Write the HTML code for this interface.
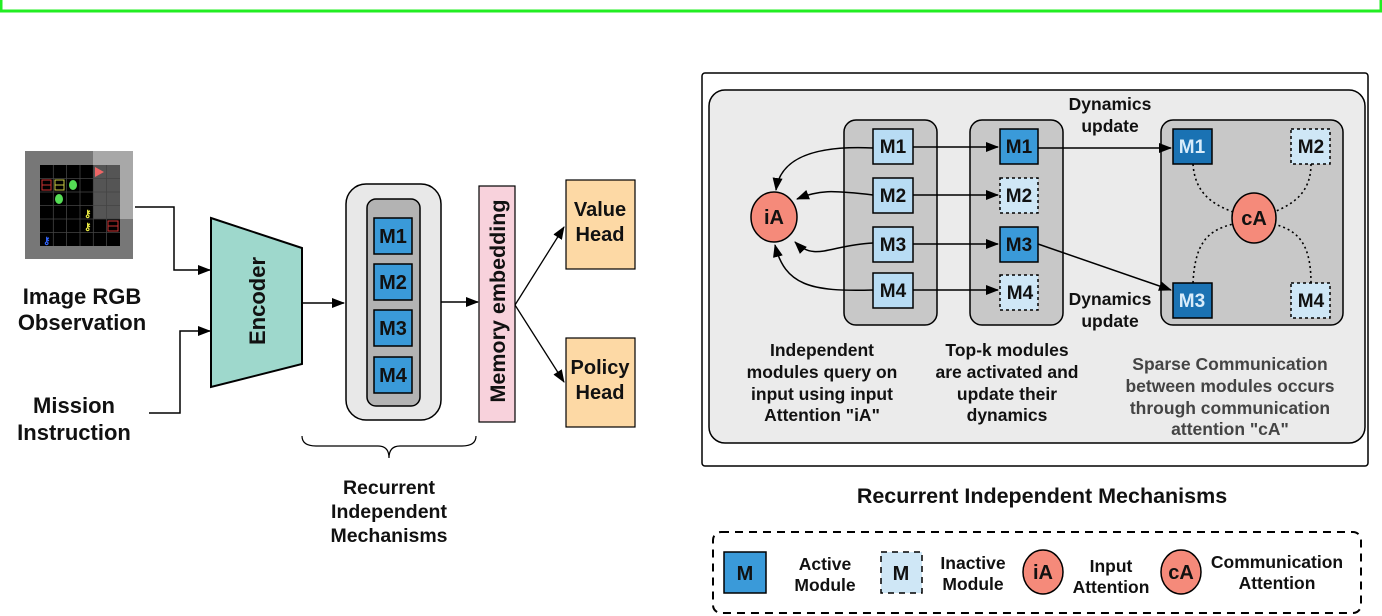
<!DOCTYPE html>
<html><head><meta charset="utf-8"><style>
body{margin:0;background:#fff}
svg{display:block}
text{font-family:"Liberation Sans",Arial,sans-serif;font-weight:bold;fill:#111}
</style></head><body>
<svg width="1382" height="616" viewBox="0 0 1382 616" xmlns="http://www.w3.org/2000/svg">
<defs>
<marker id="ar" markerWidth="13" markerHeight="10" refX="12" refY="5" orient="auto" markerUnits="userSpaceOnUse"><path d="M0,0 L13,5 L0,10 z" fill="#000"/></marker>
</defs>
<rect x="1" y="-20" width="1380" height="31" fill="none" stroke="#22ee22" stroke-width="3"/>
<!-- image observation -->
<rect x="25" y="151" width="108" height="108" fill="#777"/>
<rect x="93" y="151" width="40" height="68" fill="#a8a8a8"/>
<rect x="40" y="165" width="80" height="81" fill="#000"/>
<rect x="93" y="165" width="27" height="54" fill="#555"/>
<g stroke="#444" stroke-width="0.8">
<line x1="53.3" y1="165" x2="53.3" y2="246"/><line x1="66.6" y1="165" x2="66.6" y2="246"/><line x1="80" y1="165" x2="80" y2="246"/><line x1="93.3" y1="165" x2="93.3" y2="246"/><line x1="106.6" y1="165" x2="106.6" y2="246"/>
<line x1="40" y1="178.5" x2="120" y2="178.5"/><line x1="40" y1="192" x2="120" y2="192"/><line x1="40" y1="205.5" x2="120" y2="205.5"/><line x1="40" y1="219" x2="120" y2="219"/><line x1="40" y1="232.5" x2="120" y2="232.5"/>
</g>
<path d="M95,167 L104,172 L95,177z" fill="#e66"/>
<rect x="42" y="180" width="9" height="10" fill="none" stroke="#c33" stroke-width="1"/><line x1="42" y1="185" x2="51" y2="185" stroke="#c33"/>
<rect x="55" y="180" width="9" height="10" fill="none" stroke="#cc4" stroke-width="1"/><line x1="55" y1="185" x2="64" y2="185" stroke="#cc4"/>
<ellipse cx="73" cy="185" rx="4" ry="5" fill="#5d5"/>
<ellipse cx="59" cy="199" rx="4" ry="5" fill="#5d5"/>
<rect x="108" y="221" width="10" height="10" fill="none" stroke="#c33"/><line x1="108" y1="226" x2="118" y2="226" stroke="#c33"/>
<text x="84" y="217" font-size="10" style="fill:#ee4">⚷</text>
<text x="84" y="230" font-size="10" style="fill:#ee4">⚷</text>
<text x="43" y="244" font-size="10" style="fill:#36f">⚷</text>
<!-- left labels -->
<g font-size="22" text-anchor="middle">
<text x="82" y="304">Image RGB</text>
<text x="82" y="330">Observation</text>
<text x="74" y="413">Mission</text>
<text x="74" y="440">Instruction</text>
</g>
<polyline points="135,207 174,207 174,270 210,270" fill="none" stroke="#000" stroke-width="1.5" marker-end="url(#ar)"/>
<polyline points="149,413 180,413 180,331 210,331" fill="none" stroke="#000" stroke-width="1.5" marker-end="url(#ar)"/>
<polygon points="211,218 302,248 302,364 211,387" fill="#9ed8cc" stroke="#000" stroke-width="2"/>
<text transform="translate(265,301) rotate(-90)" font-size="22" text-anchor="middle">Encoder</text>
<line x1="302" y1="303" x2="344" y2="303" stroke="#000" stroke-width="1.5" marker-end="url(#ar)"/>
<rect x="346" y="184" width="95" height="236" rx="20" fill="#e8e8e8" stroke="#000" stroke-width="1.5"/>
<rect x="367" y="199" width="53" height="207" rx="9" fill="#b3b3b3" stroke="#000" stroke-width="1.5"/>
<g stroke="#000" stroke-width="1.5" fill="#3a9ad9">
<rect x="374" y="218" width="38" height="36"/><rect x="374" y="264" width="38" height="36"/><rect x="374" y="310" width="38" height="36"/><rect x="374" y="357" width="38" height="36"/>
</g>
<g font-size="20" text-anchor="middle"><text x="393" y="243">M1</text><text x="393" y="289">M2</text><text x="393" y="335">M3</text><text x="393" y="382">M4</text></g>
<line x1="441" y1="302" x2="478" y2="302" stroke="#000" stroke-width="1.5" marker-end="url(#ar)"/>
<rect x="479" y="186" width="36" height="236" fill="#f8d2dc" stroke="#000" stroke-width="1.2"/>
<text transform="translate(505,301) rotate(-90)" font-size="21.5" text-anchor="middle">Memory embedding</text>
<line x1="515" y1="305" x2="564" y2="227" stroke="#000" stroke-width="1.3" marker-end="url(#ar)"/>
<line x1="515" y1="305" x2="564" y2="382" stroke="#000" stroke-width="1.3" marker-end="url(#ar)"/>
<rect x="566" y="180" width="69" height="89" fill="#fdd9a5" stroke="#000" stroke-width="1.2"/>
<rect x="566" y="338" width="69" height="89" fill="#fdd9a5" stroke="#000" stroke-width="1.2"/>
<g font-size="20" text-anchor="middle"><text x="600" y="216">Value</text><text x="600" y="241">Head</text><text x="600" y="374">Policy</text><text x="600" y="399">Head</text></g>
<path d="M302,436 Q302,446 316,446 L378,446 Q389,446 389,458 Q389,446 400,446 L462,446 Q476,446 476,436" fill="none" stroke="#000" stroke-width="1.2"/>
<g font-size="19.5" text-anchor="middle"><text x="389" y="494">Recurrent</text><text x="389" y="518">Independent</text><text x="389" y="542">Mechanisms</text></g>

<!-- right panel -->
<rect x="702" y="73" width="666" height="393" rx="3" fill="#fff" stroke="#000" stroke-width="1.5"/>
<rect x="709" y="90" width="656" height="353" rx="16" fill="#ebebeb" stroke="#000" stroke-width="1.5"/>
<rect x="844" y="120" width="93" height="205" rx="12" fill="#c8c8c8" stroke="#000" stroke-width="1.5"/>
<rect x="970" y="120" width="93" height="205" rx="12" fill="#c8c8c8" stroke="#000" stroke-width="1.5"/>
<rect x="1161" y="120" width="182" height="205" rx="12" fill="#c8c8c8" stroke="#000" stroke-width="1.5"/>
<g stroke="#000" stroke-width="1.5" fill="#b8dcf4">
<rect x="873" y="129" width="40" height="35"/><rect x="873" y="178" width="40" height="35"/><rect x="873" y="227" width="40" height="35"/><rect x="873" y="273" width="40" height="35"/>
</g>
<rect x="1000" y="129" width="38" height="35" fill="#3a9ad9" stroke="#000" stroke-width="1.5"/>
<rect x="1000" y="227" width="38" height="35" fill="#3a9ad9" stroke="#000" stroke-width="1.5"/>
<rect x="1000" y="178" width="38" height="35" fill="#cfe7f6" stroke="#000" stroke-width="1.5" stroke-dasharray="3,3"/>
<rect x="1000" y="275" width="38" height="35" fill="#cfe7f6" stroke="#000" stroke-width="1.5" stroke-dasharray="3,3"/>
<rect x="1173" y="129" width="39" height="35" fill="#1a72b3" stroke="#000" stroke-width="1.5"/>
<rect x="1173" y="283" width="39" height="35" fill="#1a72b3" stroke="#000" stroke-width="1.5"/>
<rect x="1291" y="129" width="39" height="35" fill="#cfe7f6" stroke="#000" stroke-width="1.5" stroke-dasharray="3,3"/>
<rect x="1291" y="283" width="39" height="35" fill="#cfe7f6" stroke="#000" stroke-width="1.5" stroke-dasharray="3,3"/>
<g font-size="19" text-anchor="middle">
<text x="893" y="153">M1</text><text x="893" y="202">M2</text><text x="893" y="251">M3</text><text x="893" y="297">M4</text>
<text x="1019" y="153">M1</text><text x="1019" y="202">M2</text><text x="1019" y="251">M3</text><text x="1020" y="299">M4</text>
<text x="1192" y="153" style="fill:#d8ecfa">M1</text><text x="1311" y="153">M2</text>
<text x="1192" y="307" style="fill:#d8ecfa">M3</text><text x="1311" y="307">M4</text>
</g>
<ellipse cx="774" cy="217" rx="23" ry="25" fill="#f58a7a" stroke="#000" stroke-width="1.5"/>
<text x="774" y="224" font-size="20" text-anchor="middle">iA</text>
<g fill="none" stroke="#000" stroke-width="1.5">
<path d="M873,148 C810,145 780,160 776,190" marker-end="url(#ar)"/>
<path d="M873,195 C830,190 820,190 797,199" marker-end="url(#ar)"/>
<path d="M873,243 C830,245 815,262 795,242" marker-end="url(#ar)"/>
<path d="M873,290 C810,292 785,285 775,245" marker-end="url(#ar)"/>
<line x1="913" y1="147" x2="998" y2="147" marker-end="url(#ar)"/>
<line x1="913" y1="195" x2="998" y2="195" marker-end="url(#ar)"/>
<line x1="913" y1="244" x2="998" y2="244" marker-end="url(#ar)"/>
<line x1="913" y1="290" x2="998" y2="290" marker-end="url(#ar)"/>
<line x1="1038" y1="148" x2="1171" y2="148" marker-end="url(#ar)"/>
<line x1="1038" y1="244" x2="1171" y2="290" marker-end="url(#ar)"/>
</g>
<g fill="none" stroke="#000" stroke-width="1.6" stroke-dasharray="2,3">
<path d="M1193,164 C1195,195 1215,205 1233,212"/>
<path d="M1311,164 C1311,195 1290,205 1274,212"/>
<path d="M1193,283 C1195,240 1210,230 1233,224"/>
<path d="M1311,283 C1311,240 1295,230 1274,224"/>
</g>
<ellipse cx="1254" cy="218" rx="22" ry="25" fill="#f58a7a" stroke="#000" stroke-width="1.5"/>
<text x="1254" y="225" font-size="20" text-anchor="middle">cA</text>
<g font-size="17.5" text-anchor="middle">
<text x="1110" y="110">Dynamics</text><text x="1110" y="132">update</text>
<text x="1110" y="305">Dynamics</text><text x="1110" y="327">update</text>
<text x="822" y="356">Independent</text><text x="822" y="378">modules query on</text><text x="822" y="400">input using input</text><text x="822" y="421">Attention "iA"</text>
<text x="1007" y="356">Top-k modules</text><text x="1007" y="378">are activated and</text><text x="1007" y="400">update their</text><text x="1007" y="421">dynamics</text>
<text x="1230" y="370" style="fill:#444">Sparse Communication</text><text x="1230" y="392" style="fill:#444">between modules occurs</text><text x="1230" y="414" style="fill:#444">through communication</text><text x="1230" y="435" style="fill:#444">attention "cA"</text>
</g>
<text x="1042" y="503" font-size="21.5" text-anchor="middle">Recurrent Independent Mechanisms</text>
<!-- legend -->
<rect x="713" y="532" width="648" height="81" rx="8" fill="none" stroke="#000" stroke-width="2" stroke-dasharray="8,6"/>
<rect x="724" y="552" width="42" height="41" fill="#3a9ad9" stroke="#000" stroke-width="1.5"/>
<rect x="881" y="552" width="41" height="41" fill="#cfe7f6" stroke="#000" stroke-width="1.5" stroke-dasharray="6,5"/>
<ellipse cx="1043" cy="572" rx="20" ry="22" fill="#f58a7a" stroke="#000" stroke-width="1.5"/>
<ellipse cx="1181" cy="572" rx="20" ry="22" fill="#f58a7a" stroke="#000" stroke-width="1.5"/>
<g font-size="20" text-anchor="middle"><text x="745" y="580">M</text><text x="901" y="580">M</text><text x="1043" y="579">iA</text><text x="1181" y="579">cA</text></g>
<g font-size="17.5" text-anchor="middle">
<text x="825" y="570">Active</text><text x="825" y="591">Module</text>
<text x="973" y="569">Inactive</text><text x="973" y="590">Module</text>
<text x="1111" y="572">Input</text><text x="1111" y="593">Attention</text>
<text x="1277" y="568">Communication</text><text x="1277" y="589">Attention</text>
</g>
</svg>
</body></html>
